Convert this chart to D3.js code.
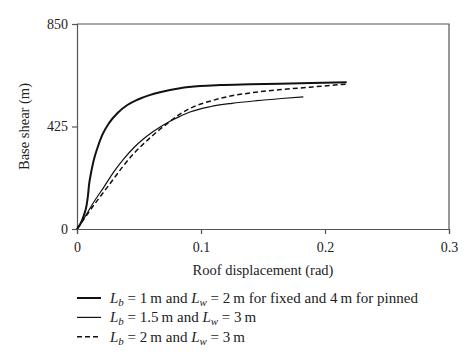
<!DOCTYPE html>
<html>
<head>
<meta charset="utf-8">
<script src="https://cdn.jsdelivr.net/npm/d3@7"></script>
<style>
  body { margin: 0; background: #fff; }
  svg { font-family: "Liberation Serif", "Times New Roman", serif; }
</style>
</head>
<body>
<div id="chart"></div>
<script>
// roof displacement (rad) / base shear values
const dispLb1 = [0, 0.003, 0.0056, 0.0078, 0.0089, 0.0097, 0.011, 0.0132, 0.0164, 0.0204, 0.0258, 0.0325, 0.0406, 0.0487, 0.0585, 0.0669, 0.083, 0.0992, 0.1153, 0.1395, 0.18, 0.2175];
const shearLb1 = [0, 24, 58, 100, 141, 183, 224, 279, 335, 390, 439, 480, 514, 536, 555, 567, 584, 593, 597, 600, 604, 608];

const dispLb15 = [0, 0.0056, 0.0137, 0.0218, 0.0298, 0.0379, 0.046, 0.054, 0.0615, 0.075, 0.083, 0.0911, 0.1073, 0.125, 0.145, 0.165, 0.1825];
const shearLb15 = [0, 44, 113, 175, 238, 292, 338, 375, 404, 447, 467, 485, 507, 521, 532, 541, 548];

const dispLb2 = [0, 0.0056, 0.0137, 0.0218, 0.0298, 0.0379, 0.046, 0.054, 0.0615, 0.075, 0.083, 0.0911, 0.0992, 0.1073, 0.1207, 0.1395, 0.1625, 0.1879, 0.2175];
const shearLb2 = [0, 41, 100, 155, 210, 265, 314, 355, 390, 446, 476, 500, 517, 530, 548, 564, 577, 588, 601];

const xTicks = [0, 0.1, 0.2, 0.3];
const yTicks = [0, 425, 850];

const series = [
  { name: "Lb1", x: dispLb1, y: shearLb1, width: 2, dash: null,
    label: [["L", "i"], ["b", "s"], [" = 1\u2009m and "], ["L", "i"], ["w", "s"], [" = 2\u2009m for fixed and 4\u2009m for pinned"]] },
  { name: "Lb15", x: dispLb15, y: shearLb15, width: 1.2, dash: null,
    label: [["L", "i"], ["b", "s"], [" = 1.5\u2009m and "], ["L", "i"], ["w", "s"], [" = 3\u2009m"]] },
  { name: "Lb2", x: dispLb2, y: shearLb2, width: 1.5, dash: "5,3",
    label: [["L", "i"], ["b", "s"], [" = 2\u2009m and "], ["L", "i"], ["w", "s"], [" = 3\u2009m"]] }
];

const W = 474, H = 364;
const margin = { top: 24, right: 25, bottom: 135, left: 77 };
const width = W - margin.left - margin.right;
const height = H - margin.top - margin.bottom;
const serif = "'Liberation Serif', 'Times New Roman', serif";

const svg = d3.select("#chart").append("svg")
    .attr("width", W)
    .attr("height", H)
    .attr("font-family", serif);

const g = svg.append("g")
    .attr("transform", `translate(${margin.left},${margin.top})`);

const scaleX = d3.scaleLinear().domain([0, 0.3]).range([0, width]);
const scaleY = d3.scaleLinear().domain([0, 850]).range([height, 0]);

// frame: top and right sides
g.append("path")
    .attr("d", `M0,0H${width}V${height}`)
    .attr("fill", "none")
    .attr("stroke", "#555")
    .attr("stroke-width", 1.2);

const xAxis = g.append("g")
    .attr("transform", `translate(0,${height})`)
    .call(d3.axisBottom(scaleX).tickValues(xTicks).tickSize(5).tickPadding(8)
        .tickFormat(function(d) { return d === 0 ? "0" : d3.format(".1f")(d); }));

const yAxis = g.append("g")
    .call(d3.axisLeft(scaleY).tickValues(yTicks).tickSize(5).tickPadding(4));

[xAxis, yAxis].forEach(function(a) {
  a.attr("font-family", serif).attr("font-size", 14);
  a.selectAll("path, line").attr("stroke", "#555").attr("stroke-width", 1.2);
  a.selectAll("text").attr("fill", "#222");
});

svg.append("text")
    .attr("x", margin.left + width / 2)
    .attr("y", 275)
    .attr("text-anchor", "middle")
    .attr("font-family", serif)
    .style("font-size", "14.5px")
    .style("fill", "#222")
    .text("Roof displacement (rad)");

svg.append("text")
    .attr("transform", `translate(29,${margin.top + height / 2}) rotate(-90)`)
    .attr("text-anchor", "middle")
    .attr("font-family", serif)
    .style("font-size", "14.5px")
    .style("fill", "#222")
    .text("Base shear (m)");

const line = d3.line()
    .x(function(d) { return scaleX(d[0]); })
    .y(function(d) { return scaleY(d[1]); })
    .curve(d3.curveMonotoneX);

series.forEach(function(s) {
  g.append("path")
      .datum(d3.zip(s.x, s.y))
      .attr("fill", "none")
      .attr("stroke", "#111")
      .attr("stroke-width", s.width)
      .attr("stroke-dasharray", s.dash)
      .attr("d", line);
});

// legend
const legend = svg.append("g").attr("transform", "translate(77,303)");
const rows = legend.selectAll("g")
    .data(series).enter()
    .append("g")
    .attr("transform", function(d, i) { return `translate(0, ${i * 19.4})`; });

rows.append("line")
    .attr("x1", 0).attr("x2", 24)
    .attr("y1", -5).attr("y2", -5)
    .attr("stroke", "#111")
    .attr("stroke-width", function(d) { return d.width; })
    .attr("stroke-dasharray", function(d) { return d.dash; });

rows.append("text")
    .attr("x", 33)
    .attr("y", 0)
    .style("font-size", "15px")
    .style("fill", "#222")
    .each(function(d) {
      const t = d3.select(this);
      d.label.forEach(function(p, i) {
        const ts = t.append("tspan").text(p[0]);
        if (p[1] === "i") ts.style("font-style", "italic");
        if (p[1] === "s") ts.style("font-style", "italic").style("font-size", "11px").attr("dy", 3);
        if (!p[1] && i > 0) ts.attr("dy", -3);
      });
    });
</script>
</body>
</html>
